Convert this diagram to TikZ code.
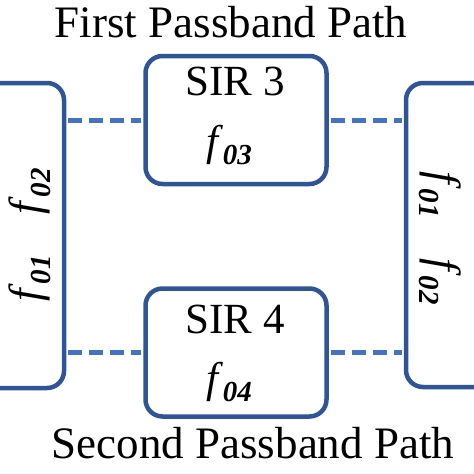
\documentclass[tikz,border=0pt]{standalone}
\usepackage{fontspec}
\setmainfont{Liberation Serif}
\definecolor{boxblue}{RGB}{47,85,151}
\definecolor{dashblue}{RGB}{68,114,196}
\newcommand{\fsub}[1]{\textit{f}\raisebox{-0.22em}{\fontsize{29}{30}\selectfont\bfseries\itshape #1}}
\begin{document}
\begin{tikzpicture}[x=1pt,y=-1pt,
  blk/.style={draw=boxblue, line width=4.5pt, rounded corners=17pt, inner sep=0pt},
  link/.style={draw=dashblue, line width=5pt, dash pattern=on 14pt off 7pt},
  big/.style={font=\fontsize{45}{50}\selectfont, inner sep=0pt, anchor=base},
  mid/.style={font=\fontsize{43}{48}\selectfont, inner sep=0pt, anchor=base}]
\useasboundingbox (0,0) rectangle (474,474);
\clip (0,0) rectangle (474,474);
\fill[white] (0,0) rectangle (474,474);
% boxes
\node[blk, minimum width=104pt, minimum height=305pt] (left) at (12,235.5) {};
\node[blk, minimum width=114pt, minimum height=304pt] (right) at (463,235) {};
\node[blk, minimum width=181pt, minimum height=128pt] (sir3) at (236,120) {};
\node[blk, minimum width=181pt, minimum height=128pt] (sir4) at (236,352.5) {};
% connectors
\draw[link] ([xshift=2.2pt]left.east |- sir3.west) -- ([xshift=-2.2pt]sir3.west);
\draw[link] ([xshift=2.2pt]left.east |- sir4.west) -- ([xshift=-2.2pt]sir4.west);
\draw[link] ([xshift=2.2pt]sir3.east) -- ([xshift=-2.2pt]sir3.east -| right.west);
\draw[link] ([xshift=2.2pt]sir4.east) -- ([xshift=-2.2pt]sir4.east -| right.west);
% titles
\node[big] (t1) at (231,37) {First Passband Path};
\node[big] (t2) at (253,458) {Second Passband Path};
% SIR texts
\node[mid] (s3a) at (235,95) {SIR 3};
\node[mid] (s3b) at (229,155) {\fsub{03}};
\node[mid] (s4a) at (235,333) {SIR 4};
\node[mid] (s4b) at (229,392) {\fsub{04}};
% rotated texts
\node[font=\fontsize{45}{48}\selectfont, inner sep=0pt, rotate=90] (lt) at (30,235) {\fsub{01}\hspace{0.9em}\fsub{02}};
\node[font=\fontsize{45}{48}\selectfont, inner sep=0pt, rotate=-90] (rt) at (440,238) {\fsub{01}\hspace{0.9em}\fsub{02}};
\end{tikzpicture}
\end{document}
